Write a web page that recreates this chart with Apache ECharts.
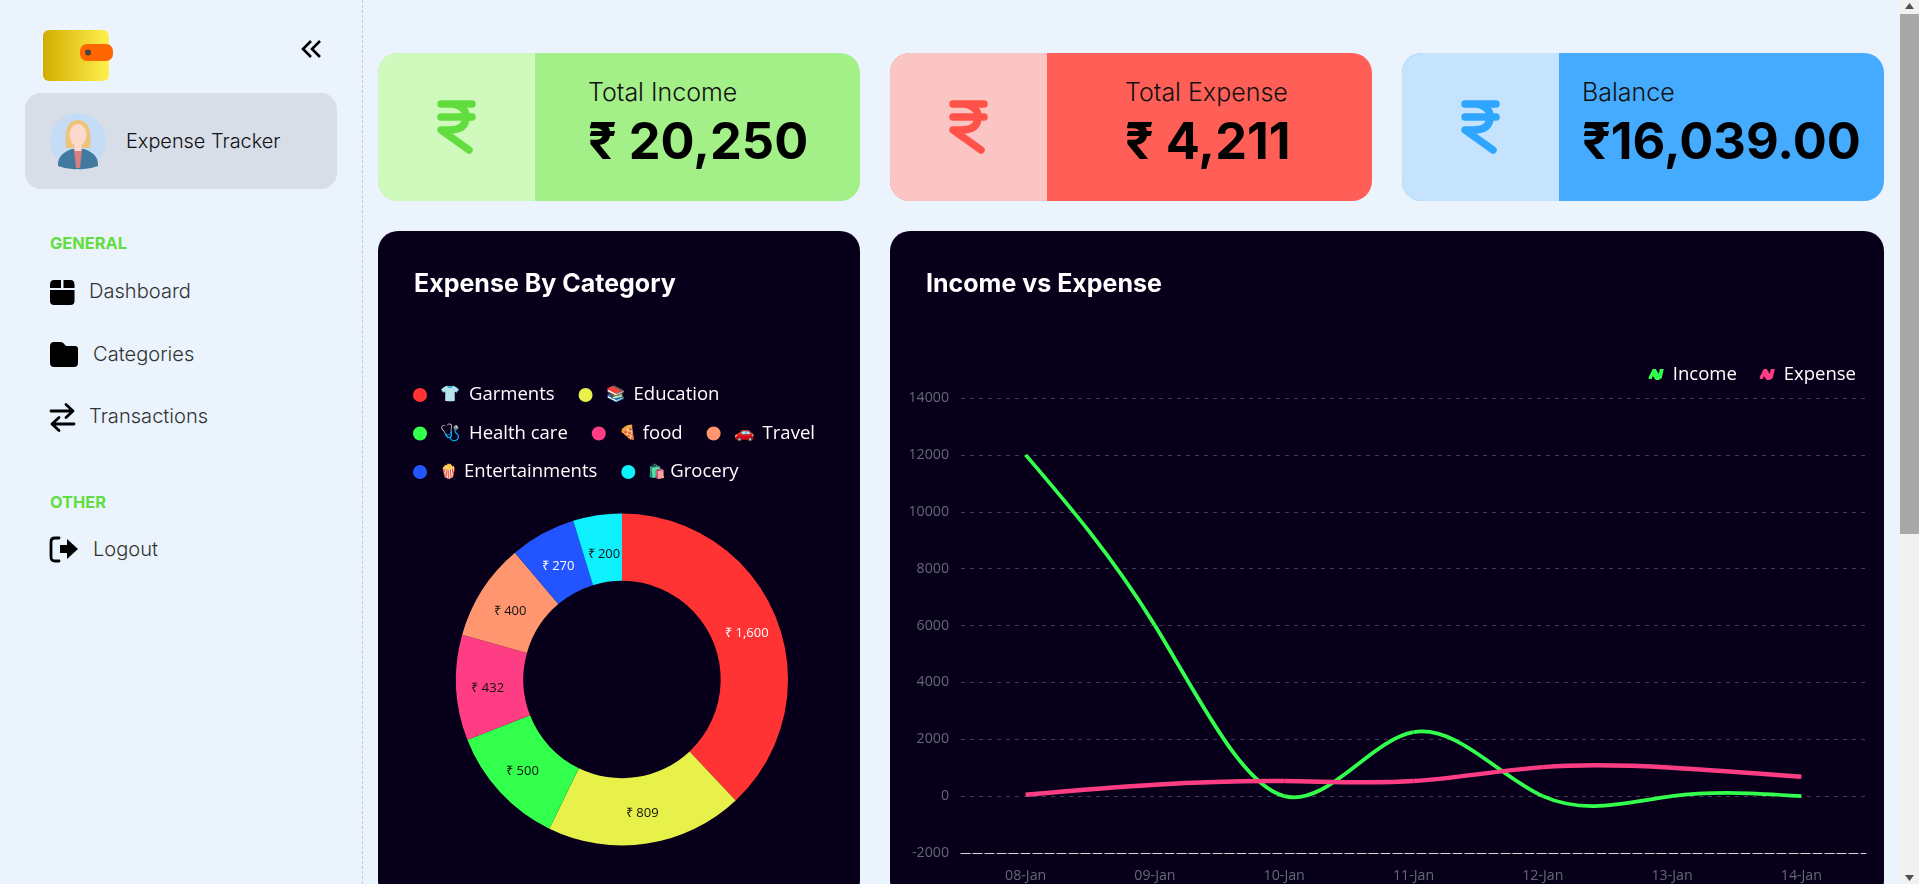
<!DOCTYPE html>
<html>
<head>
<meta charset="utf-8">
<title>Expense Tracker</title>
<script src="https://cdn.jsdelivr.net/npm/echarts@6/dist/echarts.min.js"></script>
<style>
  html, body { margin: 0; height: 100%; overflow: hidden; background: #ebf3fd; font-family: Inter, sans-serif; }
  .abs, .nav, .head, .label, .amount, .card, .icon { position: absolute; }
  .nav { color: #333; font-size: 20.1px; font-weight: 300; line-height: 24px; white-space: nowrap; }
  .head { color: #62dd40; font-size: 16.4px; font-weight: 700; line-height: 20px; }
  .label { color: #111; font-size: 25px; font-weight: 300; line-height: 30px; white-space: nowrap; }
  .amount { color: #000; font-size: 50.5px; font-weight: 700; line-height: 60px; white-space: nowrap; }
  .card { border-radius: 20px; overflow: hidden; top: 53px; height: 148px; }
  .dark { position: absolute; top: 231px; height: 670px; background: #08001a; border-radius: 20px; }
  svg { position: absolute; overflow: visible; }
</style>
</head>
<body>
<!-- sidebar -->
<div class="abs" style="left:362px;top:0;height:884px;border-left:1px dashed #c3cbd6"></div>
<svg style="left:0;top:0" width="362" height="884">
  <defs><linearGradient id="wallet"><stop offset="0" stop-color="#d1ad00"/><stop offset="1" stop-color="#fff04d"/></linearGradient></defs>
  <rect x="43" y="30" width="66" height="51" rx="6" fill="url(#wallet)"/>
  <rect x="80" y="44" width="33" height="17" rx="7" fill="#ff6500"/>
  <circle cx="88" cy="52.5" r="3" fill="#444"/>
  <path d="M311 41 L303 49 L311 57 M320 41 L312 49 L320 57" fill="none" stroke="#000" stroke-width="2.6"/>
</svg>
<div class="abs" style="left:25px;top:93px;width:312px;height:96px;background:#d7dee8;border-radius:16px"></div>
<svg style="left:0;top:0" width="362" height="220">
  <ellipse cx="78" cy="141" rx="28" ry="28" fill="#c4dcf6"/>
  <path d="M66 148 q-3 -28 12 -28 q15 0 12 28z" fill="#eec47c"/>
  <path d="M58 166 q-1 -12 14 -17 h12 q15 5 14 17 q-10 4 -20 3 q-10 1 -20 -3z" fill="#41799f"/>
  <path d="M74 150 h8 l-2 18 h-4z" fill="#d97f80"/>
  <ellipse cx="78" cy="135" rx="8.500" ry="11" fill="#fcd9cd"/>
  <rect x="74.500" y="142" width="7" height="9" fill="#fcd9cd"/>
</svg>
<div class="nav" style="left:126px;top:129px;font-weight:300;font-size:19.9px;color:#111">Expense Tracker</div>

<div class="head" style="left:50px;top:233px">GENERAL</div>
<div class="nav" style="left:89px;top:279px">Dashboard</div>
<div class="nav" style="left:93px;top:342px">Categories</div>
<div class="nav" style="left:89px;top:404px">Transactions</div>
<div class="head" style="left:50px;top:491.5px">OTHER</div>
<div class="nav" style="left:93px;top:537px">Logout</div>

<svg style="left:0;top:0" width="362" height="600">
  <path d="M54 280 h7 v8 h-11 v-3 q0 -5 4 -5z M63.500 280 h7 q4 0 4 5 v3 h-11z M50 290 h24.500 v11 q0 4 -4 4 h-16.500 q-4 0 -4 -4z" fill="#000"/>
  <path d="M50 346 q0 -4 4 -4 h7 q2 0 4 3 l1 1 h9 q3 0 3 3 v2 h-28z M50 351 h28 v12 q0 4 -4 4 h-20 q-4 0 -4 -4z" fill="#000"/>
  <path d="M51 411 h22 M66 404.500 L73 411 L66 417.500 M74 424 h-22 M59 417.500 L52 424 L59 430.500" fill="none" stroke="#000" stroke-width="2.800" stroke-linecap="round" stroke-linejoin="round"/>
  <path d="M59 538 h-4 q-4 0 -4 4 v15 q0 4 4 4 h4" fill="none" stroke="#000" stroke-width="2.800" stroke-linecap="round"/>
  <path d="M60 545 h7 v-6 l11 10 l-11 10 v-6 h-7z" fill="#000"/>
</svg>

<!-- summary cards -->
<div class="card" style="left:378px;width:482px;background:#a3ef88"><div class="abs" style="left:0;top:0;width:157px;height:148px;background:#cff9bd"></div></div>
<div class="card" style="left:890px;width:482px;background:#ff5f57"><div class="abs" style="left:0;top:0;width:157px;height:148px;background:#fbc5c3"></div></div>
<div class="card" style="left:1402px;width:482px;background:#45abff"><div class="abs" style="left:0;top:0;width:157px;height:148px;background:#c5e3fd"></div></div>

<svg style="left:0;top:0" width="1919" height="220" fill="none" stroke-width="7.500" stroke-linecap="round" stroke-linejoin="round">
  <path stroke="#62dd40" d="M441 104 H472 M441 117 H472 M450 104 Q466 105 466 117 Q466 130 449 130 H441 L469 150"/>
  <path stroke="#ff5349" d="M953 104 H984 M953 117 H984 M962 104 Q978 105 978 117 Q978 130 961 130 H953 L981 150"/>
  <path stroke="#2ea6ff" d="M1465 104 H1496 M1465 117 H1496 M1474 104 Q1490 105 1490 117 Q1490 130 1473 130 H1465 L1493 150"/>
</svg>

<div class="label" style="left:588px;top:76.5px">Total Income</div>
<div class="amount" style="left:588px;top:111px">₹ 20,250</div>
<div class="label" style="left:1125px;top:76.5px">Total Expense</div>
<div class="amount" style="left:1125px;top:111px">₹ 4,211</div>
<div class="label" style="left:1582px;top:76.5px">Balance</div>
<div class="amount" style="left:1582px;top:111px">₹16,039.00</div>

<!-- chart cards -->
<div class="dark" style="left:378px;width:482px"></div>
<div class="dark" style="left:890px;width:994px"></div>
<div id="pieChart" class="abs" style="left:378px;top:231px;width:482px;height:653px"></div>
<div id="lineChart" class="abs" style="left:890px;top:231px;width:994px;height:653px"></div>

<!-- window scrollbar -->
<div class="abs" style="left:1900px;top:0;width:19px;height:884px;background:#f1f1f1"></div>
<div class="abs" style="left:1900px;top:14px;width:19px;height:520px;background:#a8a8a8"></div>
<svg style="left:1900px;top:0" width="19" height="884">
  <path d="M9.500 3 L14 9 H5z M9.500 881 L14 875 H5z" fill="#505050"/>
</svg>

<script>
const pieEmoji = ['👕', '📚', '🩺', '🍕', '🚗', '🍿', '🛍️']
const pieNames = ['Garments', 'Education', 'Health care', 'food', 'Travel', 'Entertainments', 'Grocery']
const pieValues = [1600, 809, 500, 432, 400, 270, 200]
const pieColors = ['#ff3333', '#e8f04a', '#33ff4d', '#ff3d85', '#ff9670', '#2255ff', '#0ff0ff']
const pieLabelColors = ['#fff', '#111', '#111', '#111', '#111', '#fff', '#111']

const days = ['08-Jan', '09-Jan', '10-Jan', '11-Jan', '12-Jan', '13-Jan', '14-Jan']
const income = [12000, 6000, 0, 2250, 0, 0, 0]
const expense = [50, 400, 530, 530, 1020, 1000, 681]

const uiFont = '"Open Sans", sans-serif'

// room and size for the emoji in each legend entry, and small nudges for the slice labels
const emojiWidths = [29, 28, 29, 24, 29, 24, 22]
const emojiSizes = [16, 15.500, 16.500, 14, 16.500, 14, 14]
const labelShift = [[-1, 4], [0, 0], [0, 0], [1, 2], [2, 5], [1, 6], [2, 8.500]]

const legendRich = { t: { color: '#fff', fontFamily: uiFont, fontSize: 18.500, lineHeight: 18, padding: [0, 4.500, 0, 0] } }
emojiWidths.forEach((w, i) => {
  legendRich['e' + i] = { fontSize: emojiSizes[i], lineHeight: 18, width: w, align: 'left', padding: [0, 0, 0, 8] }
})

const pieChart = echarts.init(document.getElementById('pieChart'))
pieChart.setOption({
  animation: false,
  title: {
    text: 'Expense By Category', left: 31, top: 35.500,
    textStyle: { color: '#fff', fontFamily: 'Inter', fontWeight: 700, fontSize: 25 }
  },
  legend: {
    left: 30, top: 149.500, width: 425, itemGap: 19.500, itemWidth: 14, itemHeight: 14, icon: 'circle',
    formatter: name => {
      const i = pieNames.indexOf(name)
      return '{e' + i + '|' + pieEmoji[i] + '}{t|' + name + '}'
    },
    textStyle: { color: '#fff', rich: legendRich }
  },
  series: [{
    type: 'pie',
    center: [244, 448.500],
    radius: [98.700, 166],
    startAngle: 90,
    label: {
      position: 'inside', fontFamily: uiFont, fontSize: 13,
      formatter: p => '₹ ' + p.value.toLocaleString('en-IN')
    },
    labelLayout: p => ({ dx: labelShift[p.dataIndex][0], dy: labelShift[p.dataIndex][1] }),
    data: pieNames.map((name, i) => ({
      name,
      value: pieValues[i],
      itemStyle: { color: pieColors[i] },
      label: { color: pieLabelColors[i] }
    }))
  }]
})

// natural cubic spline through a series, second derivatives at each point
function splineCurvature (y) {
  const n = y.length
  const m = new Array(n).fill(0)
  const c = new Array(n).fill(0)
  const d = new Array(n).fill(0)
  for (let i = 1; i < n - 1; i++) {
    const w = 4 - c[i - 1]
    c[i] = 1 / w
    d[i] = (6 * (y[i - 1] - 2 * y[i] + y[i + 1]) - d[i - 1]) / w
  }
  for (let i = n - 2; i > 0; i--) m[i] = d[i] - c[i] * m[i + 1]
  return m
}

function splineSeries (name, values, color, width) {
  const m = splineCurvature(values)
  return {
    name,
    type: 'custom',
    coordinateSystem: 'cartesian2d',
    encode: { x: 0, y: 1 },
    data: values.map((v, i) => [i, v]),
    itemStyle: { color },
    renderItem: (params, api) => {
      const i = params.dataIndex
      if (i >= values.length - 1) return null
      const y0 = values[i]
      const y1 = values[i + 1]
      const from = api.coord([i, y0])
      const to = api.coord([i + 1, y1])
      const c0 = y0 + (y1 - y0 - (2 * m[i] + m[i + 1]) / 6) / 3
      const c1 = y1 - (y1 - y0 + (m[i] + 2 * m[i + 1]) / 6) / 3
      return {
        type: 'bezierCurve',
        shape: {
          x1: from[0], y1: from[1], x2: to[0], y2: to[1],
          cpx1: from[0] + (to[0] - from[0]) / 3, cpy1: api.coord([i, c0])[1],
          cpx2: from[0] + (to[0] - from[0]) * 2 / 3, cpy2: api.coord([i, c1])[1]
        },
        style: { stroke: color, fill: null, lineWidth: width }
      }
    }
  }
}

const lineChart = echarts.init(document.getElementById('lineChart'))
lineChart.setOption({
  animation: false,
  title: {
    text: 'Income vs Expense', left: 31, top: 35.500,
    textStyle: { color: '#fff', fontFamily: 'Inter', fontWeight: 700, fontSize: 25 }
  },
  legend: {
    right: 23, top: 129, itemGap: 23, itemWidth: 15, itemHeight: 12,
    icon: 'path://M0 8 L4 0 L7 0 L10 5 L11 0 L15 0 L13 9 L10 11 L7 11 L4 7 L3 10 L0 10 Z',
    textStyle: { color: '#fff', fontFamily: uiFont, fontSize: 18.500, padding: [0, 0, 0, 4] }
  },
  grid: { left: 71, right: 18, top: 167, bottom: 31 },
  xAxis: {
    type: 'category',
    data: days,
    axisTick: { show: false },
    axisLine: { onZero: false, lineStyle: { color: '#d5d5d5', type: [9, 3] } },
    axisLabel: { color: '#636874', fontFamily: uiFont, fontSize: 14.200, margin: 16 }
  },
  yAxis: {
    type: 'value', min: -2000, max: 14000, interval: 2000,
    splitLine: { lineStyle: { color: '#38404f', type: [4, 5] } },
    axisLabel: { color: '#636874', fontFamily: uiFont, fontSize: 14.200, margin: 12, formatter: v => String(v) }
  },
  series: [
    splineSeries('Income', income, '#33ff4d', 3.800),
    splineSeries('Expense', expense, '#ff3d85', 4.500)
  ]
})
</script>
</body>
</html>
